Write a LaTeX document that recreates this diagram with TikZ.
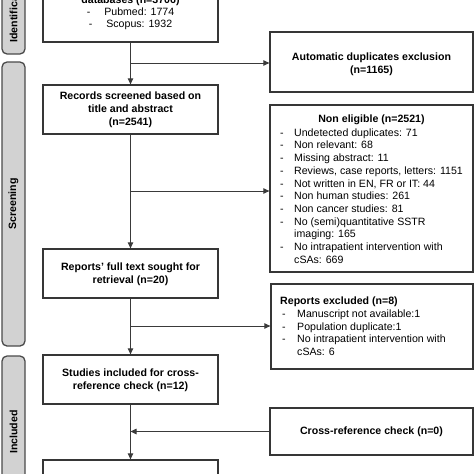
\documentclass[tikz,border=0pt]{standalone}
\usepackage{fontspec}
\setmainfont{Liberation Sans}
\usetikzlibrary{arrows.meta}
\definecolor{boxline}{HTML}{363636}
\definecolor{arrline}{HTML}{3A3A3A}
\definecolor{barfill}{HTML}{D2D2D2}
\definecolor{barline}{HTML}{4A4A4A}
\tikzset{
  box/.style={draw=boxline, line width=1.3pt, fill=white, inner sep=0pt},
  btxt/.style={font=\fontsize{10.6}{13}\selectfont\bfseries, align=center, inner sep=0pt},
  ltxt/.style={font=\fontsize{10.6}{12.7}\selectfont, align=left, inner sep=0pt, anchor=west},
  phase/.style={draw=barline, line width=1.3pt, fill=barfill, rounded corners=5pt},
  phasetxt/.style={font=\fontsize{10.6}{12.6}\selectfont\bfseries, rotate=90, inner sep=0pt},
  ln/.style={draw=arrline, line width=0.9pt},
  arr/.style={ln, -{Triangle[length=6pt,width=5.5pt]}},
}
\newcommand{\dashitem}[1]{\makebox[14pt][l]{-}#1}
\newcommand{\dashcont}[1]{\hspace*{14pt}#1}
\begin{document}
\begin{tikzpicture}[x=1pt,y=-1pt]
\useasboundingbox (0,0) rectangle (474,474);
\clip (0,0) rectangle (474,474);
% phase bars
\draw[phase] (2,-40) rectangle (25,54);
\draw[phase] (2,62) rectangle (25,346);
\draw[phase] (2,356) rectangle (25,508);
\node[phasetxt] (pid) at (13.5,9.5) {Identification};
\node[phasetxt] (pscr) at (13.5,204) {Screening};
\node[phasetxt] (pinc) at (13.5,432) {Included};
% left column boxes
\node[box, minimum width=175pt, minimum height=80pt] (id) at (130.5,2) {};
\node[font=\fontsize{10.6}{12}\selectfont, align=center, inner sep=0pt] (idtxt) at (130.5,13)
  {\textbf{databases (n=3706)}\\-\hspace{14pt}Pubmed: 1774\\-\hspace{14pt}Scopus: 1932};
\node[box, minimum width=175pt, minimum height=49pt] (rs) at (130.5,109.5) {};
\node[btxt] (rstxt) at (130.5,110) {Records screened based on\\title and abstract\\(n=2541)};
\node[box, minimum width=175pt, minimum height=49pt] (ft) at (130.5,273.5) {};
\node[btxt] (fttxt) at (130.5,274.5) {Reports’ full text sought for\\retrieval (n=20)};
\node[box, minimum width=175pt, minimum height=49pt] (si) at (130.5,379.5) {};
\node[btxt] (sitxt) at (130.5,380) {Studies included for cross-\\reference check (n=12)};
\node[box, minimum width=175pt, minimum height=80pt] (fin) at (130.5,500) {};
% right column boxes
\node[box, minimum width=203pt, minimum height=60pt] (auto) at (371.5,62) {};
\node[btxt] (autotxt) at (371.5,64) {Automatic duplicates exclusion\\(n=1165)};
\node[box, minimum width=203pt, minimum height=167pt] (ne) at (371.5,188.5) {};
\node[btxt] (netitle) at (371.5,120) {Non eligible (n=2521)};
\node[ltxt] (netxt) at (280,196) {\dashitem{Undetected duplicates: 71}\\
\dashitem{Non relevant: 68}\\
\dashitem{Missing abstract: 11}\\
\dashitem{Reviews, case reports, letters: 1151}\\
\dashitem{Not written in EN, FR or IT: 44}\\
\dashitem{Non human studies: 261}\\
\dashitem{Non cancer studies: 81}\\
\dashitem{No (semi)quantitative SSTR}\\
\dashcont{imaging: 165}\\
\dashitem{No intrapatient intervention with}\\
\dashcont{cSAs: 669}};
\node[box, minimum width=202pt, minimum height=85pt] (ex) at (372,326.5) {};
\node[ltxt] (extxt) at (280,326.5) {\textbf{Reports excluded (n=8)}\\
\hspace*{2pt}\makebox[15pt][l]{-}Manuscript not available:1\\
\hspace*{2pt}\makebox[15pt][l]{-}Population duplicate:1\\
\hspace*{2pt}\makebox[15pt][l]{-}No intrapatient intervention with\\
\hspace*{17pt}cSAs: 6};
\node[box, minimum width=203pt, minimum height=47pt] (cr) at (371.5,431.5) {};
\node[btxt] (crtxt) at (371.5,432) {Cross-reference check (n=0)};
% connectors
\coordinate (j1) at (130.5,63);
\coordinate (j2) at (130.5,191);
\coordinate (j3) at (130.5,326);
\draw[arr] (id.south) -- (rs.north);
\draw[arr] (j1) -- (j1 -| auto.west);
\draw[arr] (rs.south) -- (ft.north);
\draw[arr] (j2) -- (j2 -| ne.west);
\draw[arr] (ft.south) -- (si.north);
\draw[arr] (j3) -- (j3 -| ex.west);
\draw[arr] (si.south) -- (fin.north);
\draw[arr] (cr.west) -- (cr.west -| si.south);
\end{tikzpicture}
\end{document}
